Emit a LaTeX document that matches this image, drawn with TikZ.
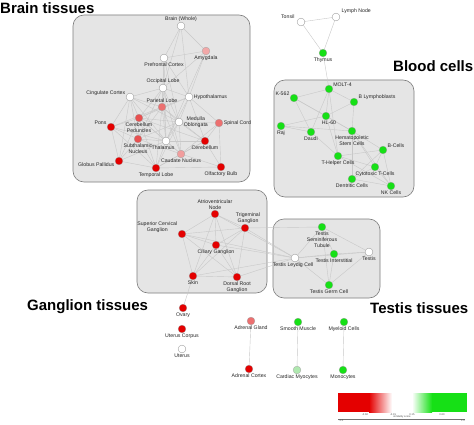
\documentclass[tikz,border=0pt]{standalone}
\usepackage{fontspec}
\setmainfont{Liberation Sans}
\pgfdeclarelayer{boxes}
\pgfdeclarelayer{edges}
\pgfsetlayers{boxes,edges,main}
\definecolor{rd}{RGB}{228,0,0}
\definecolor{gn}{RGB}{22,224,22}
\definecolor{lgn}{RGB}{175,232,175}
\definecolor{pk}{RGB}{242,168,168}
\definecolor{sal}{RGB}{236,112,112}
\definecolor{sal2}{RGB}{232,80,80}
\definecolor{boxfill}{RGB}{229,229,229}
\definecolor{boxline}{RGB}{125,125,125}
\definecolor{edg}{RGB}{200,200,200}
\begin{document}
\begin{tikzpicture}[x=1pt,y=-1pt,
  nd/.style={circle,minimum size=7.8pt,inner sep=0pt,draw=black!35,line width=0.3pt},
  wn/.style={nd,fill=white,draw=black!45},
  every label/.style={font=\fontsize{5.2}{5.9}\selectfont,inner sep=0.3pt,align=center,text=black!85},
  label distance=0.3pt,
  ttl/.style={font=\fontsize{15}{18}\selectfont\bfseries,inner sep=0pt,anchor=west},
  box/.style={fill=boxfill,draw=boxline,line width=0.6pt,rounded corners=11pt},
  ed/.style={draw=edg,line width=0.4pt},
  tick/.style={font=\fontsize{2.6}{3}\selectfont,inner sep=0pt,text=black!70}]
\useasboundingbox (0,0) rectangle (474,425);
% titles
\node[ttl] (tbrain) at (0,8) {Brain tissues};
\node[ttl] (tblood) at (393,66) {Blood cells};
\node[ttl] (tgang) at (27,307) {Ganglion tissues};
\node[ttl] (ttest) at (370,308) {Testis tissues};
% boxes
\begin{pgfonlayer}{boxes}
\fill[white] (0,0) rectangle (474,425);
\draw[box] (73,15) rectangle (250,182);
\draw[box] (274,80) rectangle (414,197);
\draw[box] (137,190) rectangle (267,293);
\draw[box] (273,219) rectangle (380,298);
\end{pgfonlayer}
% brain
\node[wn,label={above:Brain (Whole)}] (bw) at (181,26) {};
\node[nd,fill=pk,label={below:Amygdala}] (amy) at (206,51) {};
\node[wn,label={below:Prefrontal Cortex}] (pfc) at (164,58) {};
\node[wn,label={above:Occipital Lobe}] (occ) at (163,88) {};
\node[wn,label={170:Cingulate Cortex}] (cing) at (130,97) {};
\node[wn,label={right:Hypothalamus}] (hyp) at (189,97) {};
\node[nd,fill=sal,label={above:Parietal Lobe}] (par) at (162,107) {};
\node[nd,fill=sal2,label={below:Cerebellum\\Peduncles}] (ped) at (139,118) {};
\node[nd,fill=rd,label={160:Pons}] (pons) at (111,127) {};
\node[wn,label={right:Medulla\\Oblongata}] (med) at (179,122) {};
\node[nd,fill=sal,label={right:Spinal Cord}] (sc) at (219,123) {};
\node[nd,fill=sal2,label={below:Subthalamic\\Nucleus}] (stn) at (138,139) {};
\node[wn,label={[xshift=-3pt]below:Thalamus}] (thal) at (166,141) {};
\node[nd,fill=rd,label={below:Cerebellum}] (cbl) at (205,141) {};
\node[nd,fill=pk!80!sal,label={below:Caudate Nucleus}] (caud) at (181,154) {};
\node[nd,fill=rd,label={195:Globus Pallidus}] (gp) at (119,161) {};
\node[nd,fill=rd,label={below:Temporal Lobe}] (temp) at (156,168) {};
\node[nd,fill=rd,label={below:Olfactory Bulb}] (olf) at (221,167) {};
% blood
\node[wn,label={[xshift=-3pt]above left:Tonsil}] (ton) at (301,22) {};
\node[wn,label={[xshift=2pt]above right:Lymph Node}] (lym) at (336,17) {};
\node[nd,fill=gn,label={below:Thymus}] (thy) at (323,53) {};
\node[nd,fill=gn,label={30:MOLT-4}] (molt) at (329,89) {};
\node[nd,fill=gn,label={160:K-562}] (k562) at (294,98) {};
\node[nd,fill=gn,label={20:B Lymphoblasts}] (blym) at (354,102) {};
\node[nd,fill=gn,label={[xshift=3pt]below:HL-60}] (hl60) at (326,116) {};
\node[nd,fill=gn,label={below:Raj}] (raj) at (281,126) {};
\node[nd,fill=gn,label={below:Daudi}] (daudi) at (311,132) {};
\node[nd,fill=gn,label={below:Hematopoietic\\Stem Cells}] (hsc) at (352,131) {};
\node[nd,fill=gn,label={20:B-Cells}] (bcell) at (383,150) {};
\node[nd,fill=gn,label={below:T-Helper Cells}] (th) at (338,156) {};
\node[nd,fill=gn,label={below:Cytotoxic T-Cells}] (ctc) at (375,167) {};
\node[nd,fill=gn,label={below:Dentritic Cells}] (dc) at (352,179) {};
\node[nd,fill=gn,label={below:NK Cells}] (nk) at (391,186) {};
% ganglion
\node[nd,fill=rd,label={above:Atrioventricular\\Node}] (av) at (215,214) {};
\node[nd,fill=rd,label={[xshift=3pt]above:Trigeminal\\Ganglion}] (tg) at (245,228) {};
\node[nd,fill=rd,label={168:Superior Cervical\\Ganglion}] (scg) at (182,234) {};
\node[nd,fill=rd,label={below:Ciliary Ganglion}] (cil) at (216,245) {};
\node[nd,fill=rd,label={below:Skin}] (skin) at (193,276) {};
\node[nd,fill=rd,label={below:Dorsal Root\\Ganglion}] (drg) at (237,277) {};
% testis
\node[nd,fill=gn,label={below:Testis\\Seminiferous\\Tubule}] (stt) at (322,227) {};
\node[wn,label={below:Testis}] (tes) at (369,252) {};
\node[nd,fill=gn,label={below:Testis Interstitial}] (tint) at (334,254) {};
\node[wn,label={[xshift=-2pt]below:Testis Leydig Cell}] (ley) at (295,258) {};
\node[nd,fill=gn,label={below:Testis Germ Cell}] (germ) at (329,285) {};
% others
\node[nd,fill=rd,label={below:Ovary}] (ova) at (183,308) {};
\node[nd,fill=rd,label={below:Uterus Corpus}] (utc) at (182,329) {};
\node[wn,label={below:Uterus}] (ut) at (182,349) {};
\node[nd,fill=sal,label={below:Adrenal Gland}] (ag) at (251,321) {};
\node[nd,fill=rd,label={below:Adrenal Cortex}] (ac) at (249,369) {};
\node[nd,fill=gn,label={below:Smooth Muscle}] (sm) at (298,322) {};
\node[nd,fill=lgn,label={below:Cardiac Myocytes}] (cm) at (297,370) {};
\node[nd,fill=gn,label={below:Myeloid Cells}] (mye) at (344,322) {};
\node[nd,fill=gn,label={below:Monocytes}] (mono) at (343,370) {};
% edges
\begin{pgfonlayer}{edges}
\foreach \a/\b in {bw/pfc,bw/amy,bw/hyp,bw/occ,pfc/amy,pfc/occ,pfc/par,pfc/thal,pfc/med,pfc/hyp,amy/hyp,amy/occ,amy/thal,
  occ/cing,occ/hyp,occ/par,occ/ped,occ/thal,occ/med,occ/stn,occ/caud,cing/par,cing/pons,cing/ped,cing/thal,cing/gp,cing/stn,cing/med,
  hyp/par,hyp/med,hyp/sc,hyp/thal,hyp/cbl,hyp/ped,par/ped,par/med,par/thal,par/stn,par/caud,par/temp,par/pons,par/cbl,
  ped/pons,ped/stn,ped/thal,ped/med,ped/caud,ped/gp,ped/temp,ped/cbl,pons/stn,pons/gp,pons/temp,pons/thal,
  med/sc,med/thal,med/cbl,med/caud,med/stn,med/temp,sc/cbl,sc/olf,sc/caud,stn/thal,stn/gp,stn/temp,stn/caud,
  thal/caud,thal/temp,thal/cbl,thal/gp,cbl/caud,cbl/olf,caud/temp,caud/olf,gp/temp,temp/olf,temp/cbl,
  ton/lym,ton/thy,lym/thy,thy/molt,molt/k562,molt/hl60,molt/daudi,molt/blym,molt/th,k562/hl60,k562/daudi,k562/hsc,
  hl60/raj,hl60/blym,hl60/hsc,hl60/th,raj/daudi,raj/hsc,daudi/th,blym/hsc,hsc/bcell,hsc/ctc,hsc/dc,hsc/nk,
  th/bcell,th/ctc,th/nk,bcell/ctc,bcell/dc,bcell/nk,ctc/nk,ctc/dc,dc/nk,
  av/tg,av/scg,av/cil,av/skin,av/drg,tg/scg,tg/cil,tg/skin,tg/drg,scg/cil,scg/skin,scg/drg,cil/skin,cil/drg,skin/drg,
  skin/ova,tg/ley,scg/ley,cil/ley,skin/ley,drg/ley,av/ley,tg/stt,
  ley/stt,ley/tint,ley/germ,ley/tes,stt/tes,stt/tint,stt/germ,tint/germ,tint/tes,germ/tes,
  ag/ac,sm/cm,mye/mono}
  \draw[ed] (\a) -- (\b);
\end{pgfonlayer}
% colour bar
\fill[rd] (338,393) rectangle (369,412);
\shade[left color=rd,right color=white] (369,393) rectangle (392,412);
\fill[white] (392,393) rectangle (412,412);
\shade[left color=white,right color=gn] (412,393) rectangle (432,412);
\fill[gn] (432,393) rectangle (467,412);
\node[tick] (t1) at (365,414.3) {-0.60};
\node[tick] (t2) at (393,414.3) {-0.15};
\node[tick] (t3) at (412,414.3) {0.15};
\node[tick] (t4) at (442,414.3) {0.60};
\node[tick] (sl) at (402,417.2) {similarity score};
\coordinate (ax1) at (338,419);
\coordinate (ax2) at (465,419);
\draw[black!55,line width=0.3pt] (ax1) -- (ax2);
\node[tick] (tl) at (341,420.5) {-1.0};
\node[tick] (tr) at (463,420.5) {1.0};
\end{tikzpicture}
\end{document}
